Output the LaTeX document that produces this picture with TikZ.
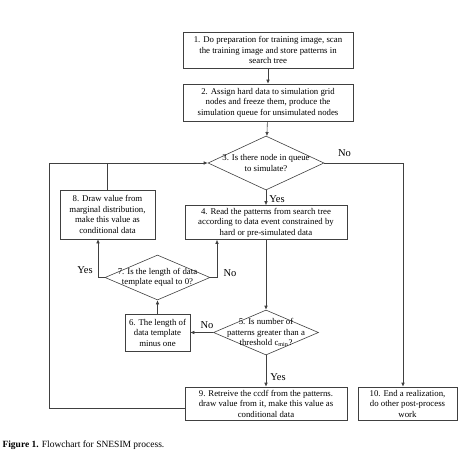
\documentclass[tikz,border=0pt]{standalone}
\usepackage{fontspec}
\setmainfont{Liberation Serif}
\usepackage{tikz}
\usetikzlibrary{shapes,arrows.meta,positioning,calc}

\begin{document}
\begin{tikzpicture}[
    x=1pt, y=-1pt,
    box/.style={rectangle, draw=black!75, line width=0.6pt, inner sep=1pt, align=center,
        font=\fontsize{8.8}{10.5}\selectfont},
    decision/.style={diamond, draw=black!75, line width=0.6pt, inner sep=0pt},
    dtext/.style={align=center, font=\fontsize{8.8}{10.5}\selectfont},
    answer/.style={font=\fontsize{10.5}{12}\selectfont},
    arrow/.style={-{Latex[length=4pt,width=3.5pt]}, draw=black!75, line width=0.6pt},
    line/.style={draw=black!75, line width=0.6pt}
]
    \useasboundingbox (0,0) rectangle (474,468);

    \node[box, minimum width=170pt, minimum height=36pt] (prep) at (268,50)
        {1. Do preparation for training image, scan\\the training image and store patterns in\\search tree};
    \node[box, minimum width=170pt, minimum height=37pt] (assign) at (268,102.5)
        {2. Assign hard data to simulation grid\\nodes and freeze them, produce the\\simulation queue for unsimulated nodes};
    \node[decision, minimum width=116pt, minimum height=54pt] (queue) at (266,163) {};
    \node[dtext] (queuetxt) at (queue.center) {3. Is there node in queue\\to simulate?};
    \node[box, minimum width=95pt, minimum height=49pt] (marginal) at (107.5,214.5)
        {8. Draw value from\\marginal distribution,\\make this value as\\conditional data};
    \node[box, minimum width=162pt, minimum height=34pt] (read) at (266,222.5)
        {4. Read the patterns from search tree\\according to data event constrained by\\hard or pre-simulated data};
    \node[decision, minimum width=105pt, minimum height=45pt] (zero) at (157.5,277.5) {};
    \node[dtext] (zerotxt) at (zero.center) {7. Is the length of data\\template equal to 0?};
    \node[box, minimum width=65pt, minimum height=37pt] (shrink) at (157.5,332.5)
        {6. The length of\\data template\\minus one};
    \node[decision, minimum width=105pt, minimum height=45pt] (count) at (266,332.5) {};
    \node[dtext] (counttxt) at (count.center) {5. Is number of\\patterns greater than a\\threshold c$_{\min}$?};
    \node[box, minimum width=162pt, minimum height=33pt] (ccdf) at (266,403.5)
        {9. Retreive the ccdf from the patterns.\\draw value from it, make this value as\\conditional data};
    \node[box, minimum width=99pt, minimum height=33pt] (finish) at (407.5,403.5)
        {10. End a realization,\\do other post-process\\work};

    \node[answer] (no3) at (344.5,153) {No};
    \node[answer] (yes3) at (277,199) {Yes};
    \node[answer] (yes7) at (85,270) {Yes};
    \node[answer] (no7) at (230,273) {No};
    \node[answer] (no5) at (207,325) {No};
    \node[answer] (yes5) at (278,377) {Yes};

    \node[anchor=west, font=\fontsize{9.5}{11}\selectfont] (caption) at (-1,445)
        {\textbf{Figure 1.} Flowchart for SNESIM process.};

    \coordinate (loopcorner) at (49,163);
    \coordinate (endcorner) at (403,163);

    \draw[arrow] (prep) -- (assign);
    \draw[arrow] (assign) -- (queue);
    \draw[arrow] (queue) -- (read);
    \draw[arrow] (read) -- (count);
    \draw[arrow] (count) -- (ccdf);
    \draw[arrow] (count) -- (shrink);
    \draw[arrow] (shrink) -- (zero);
    \draw[arrow] (zero.west) -| ([xshift=-9.5pt]marginal.south);
    \draw[arrow] (zero.east) -| ([xshift=-49pt]read.south);
    \draw[arrow] ([yshift=-5pt]ccdf.west) -| (loopcorner) -- (queue.west);
    \draw[line] (marginal.north) -- (marginal.north |- loopcorner);
    \draw[arrow] (queue.east) -- (endcorner) -- (finish.north -| endcorner);
\end{tikzpicture}
\end{document}
